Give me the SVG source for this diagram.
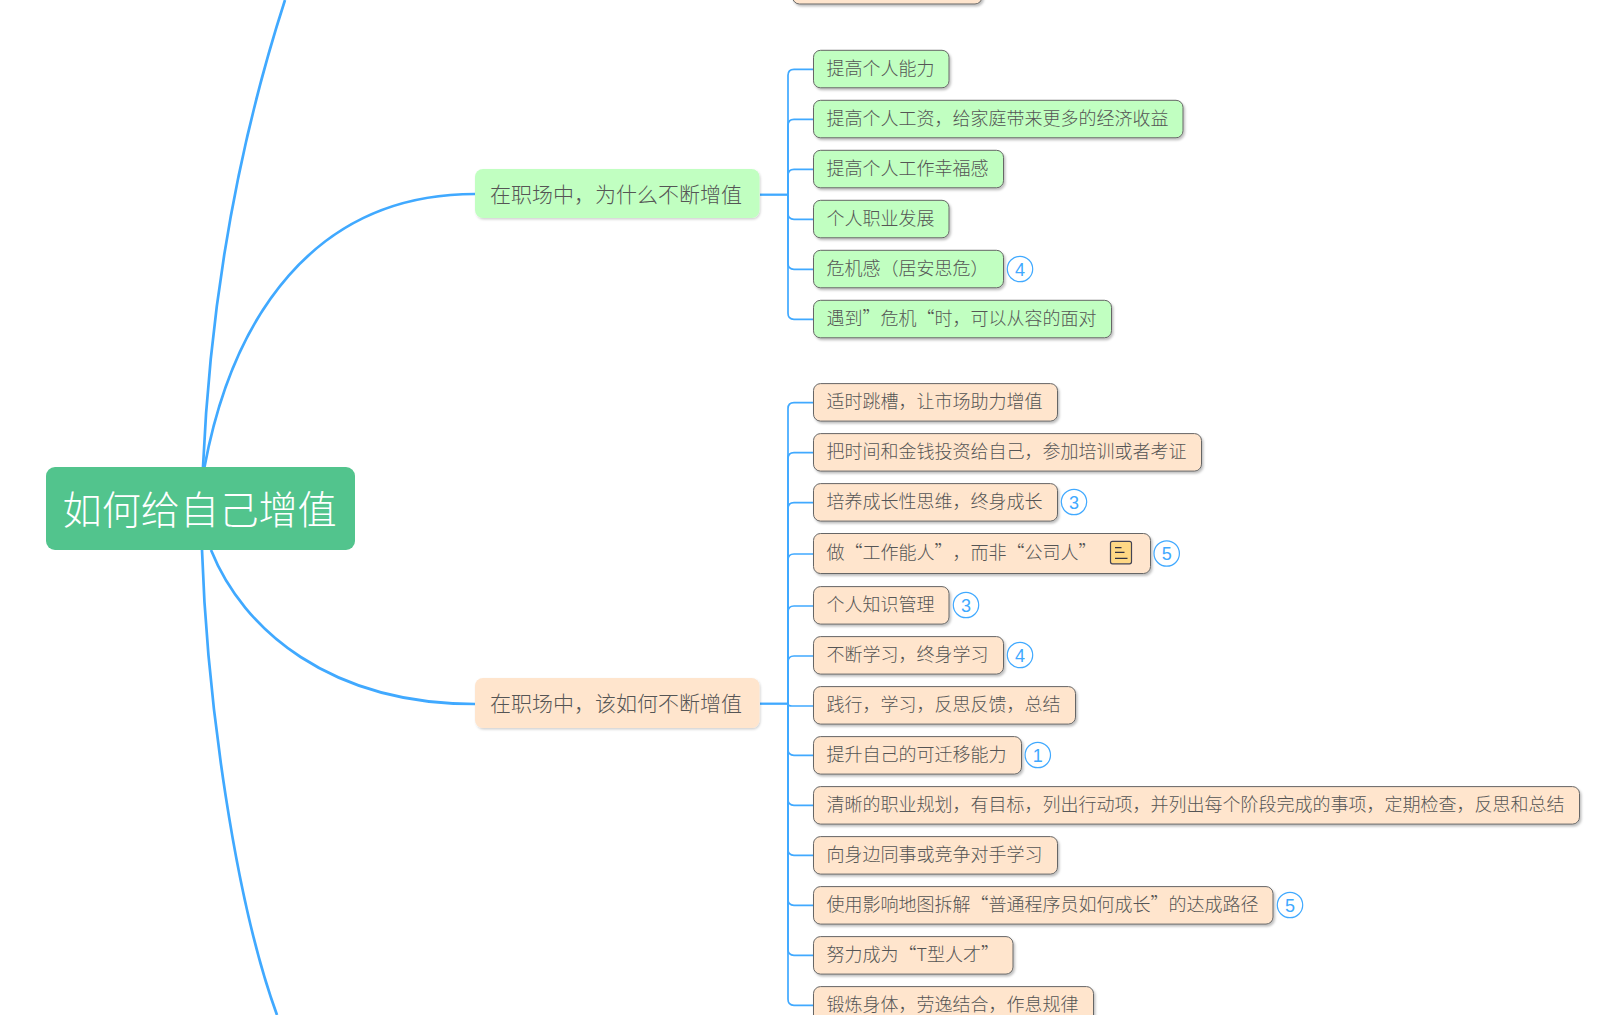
<svg xmlns="http://www.w3.org/2000/svg" width="1624" height="1015" viewBox="0 0 1624 1015">
<style>
text{font-family:"Noto Sans CJK SC","Liberation Sans",sans-serif;fill:#555;font-weight:300;text-spacing-trim:space-all}
.leaf text{font-size:18px}
.g rect.b{fill:#c1ffc1}
.o rect.b{fill:#ffe5cd}
.leaf rect.b{stroke:#666;stroke-width:1;filter:url(#ls)}
.br rect{filter:url(#bs)}
.br text{font-size:21px}
.con path{fill:none;stroke:#40a9ff;stroke-width:1.7}
.con path.main{stroke-width:2.7}
.badge circle{fill:#fff;stroke:#40a9ff;stroke-width:1.2}
.badge text{font-family:"Liberation Sans",sans-serif;font-size:18px;font-weight:400;fill:#40a9ff;text-anchor:middle}
</style>
<defs>
<filter id="ls" x="-10%" y="-20%" width="120%" height="150%"><feDropShadow dx="1.5" dy="2" stdDeviation="1.2" flood-color="#000" flood-opacity="0.25"/></filter>
<filter id="bs" x="-10%" y="-20%" width="120%" height="150%"><feDropShadow dx="1" dy="1.5" stdDeviation="1" flood-color="#000" flood-opacity="0.18"/></filter>
</defs>
<g id="connectors" class="con">
<path class="main" d="M203,467C209,330 230,170 285,0"/>
<path class="main" d="M204.500,467C232,320 312,194 475,194"/>
<path class="main" d="M211,550C243,630 330,704 475,704"/>
<path class="main" d="M202,550C207,700 235,900 277,1015"/>
<path class="main" style="stroke-width:2.3" d="M760,194.700H788"/>
<path d="M788,194.700V75.300Q788,69.300 794,69.300H813.500"/>
<path d="M788,194.700V125.300Q788,119.300 794,119.300H813.500"/>
<path d="M788,194.700V175.300Q788,169.300 794,169.300H813.500"/>
<path d="M788,194.700V213.300Q788,219.300 794,219.300H813.500"/>
<path d="M788,194.700V263.300Q788,269.300 794,269.300H813.500"/>
<path d="M788,194.700V313.300Q788,319.300 794,319.300H813.500"/>
<path class="main" style="stroke-width:2.3" d="M760,703.700H788"/>
<path d="M788,703.700V408.700Q788,402.700 794,402.700H813.500"/>
<path d="M788,703.700V458.700Q788,452.700 794,452.700H813.500"/>
<path d="M788,703.700V508.700Q788,502.700 794,502.700H813.500"/>
<path d="M788,703.700V560Q788,554 794,554H813.500"/>
<path d="M788,703.700V612Q788,606 794,606H813.500"/>
<path d="M788,703.700V662Q788,656 794,656H813.500"/>
<path d="M788,703.700Q788,706 792,706H813.500"/>
<path d="M788,703.700V749.300Q788,755.300 794,755.300H813.500"/>
<path d="M788,703.700V799.300Q788,805.300 794,805.300H813.500"/>
<path d="M788,703.700V849.300Q788,855.300 794,855.300H813.500"/>
<path d="M788,703.700V899.300Q788,905.300 794,905.300H813.500"/>
<path d="M788,703.700V949.300Q788,955.300 794,955.300H813.500"/>
<path d="M788,703.700V999.300Q788,1005.300 794,1005.300H813.500"/>
</g>
<g id="root"><rect x="46" y="467" width="309" height="83" rx="9" fill="#52c48d"/><text x="62.500" y="523.500" style="font-size:39.200px;fill:#fff">如何给自己增值</text></g>
<g id="branch1" class="br g"><rect class="b" x="475" y="169" width="284.500" height="49" rx="8"/><text x="490" y="202">在职场中，为什么不断增值</text></g>
<g id="branch2" class="br o"><rect class="b" x="475" y="678" width="284.500" height="50" rx="8"/><text x="490" y="711">在职场中，该如何不断增值</text></g>
<g id="leaf-top" class="leaf o"><rect class="b" x="792.500" y="-34" width="189.500" height="38" rx="7"/></g>
<g id="g1" class="leaf g"><rect class="b" x="813.500" y="50.300" width="135.500" height="37.500" rx="7"/><text x="826.500" y="74.900">提高个人能力</text></g>
<g id="g2" class="leaf g"><rect class="b" x="813.500" y="100.300" width="369.500" height="37.500" rx="7"/><text x="826.500" y="124.900">提高个人工资，给家庭带来更多的经济收益</text></g>
<g id="g3" class="leaf g"><rect class="b" x="813.500" y="150.300" width="190" height="37.500" rx="7"/><text x="826.500" y="174.900">提高个人工作幸福感</text></g>
<g id="g4" class="leaf g"><rect class="b" x="813.500" y="200.300" width="135.500" height="37.500" rx="7"/><text x="826.500" y="224.900">个人职业发展</text></g>
<g id="g5" class="leaf g"><rect class="b" x="813.500" y="250.300" width="190" height="37.500" rx="7"/><text x="826.500" y="274.900">危机感（居安思危）</text></g>
<g id="g6" class="leaf g"><rect class="b" x="813.500" y="300.300" width="298" height="37.500" rx="7"/><text x="826.500" y="324.900">遇到”危机“时，可以从容的面对</text></g>
<g id="o1" class="leaf o"><rect class="b" x="813.500" y="383.600" width="244" height="37.500" rx="7"/><text x="826.500" y="407.700">适时跳槽，让市场助力增值</text></g>
<g id="o2" class="leaf o"><rect class="b" x="813.500" y="433.600" width="388" height="37.500" rx="7"/><text x="826.500" y="457.700">把时间和金钱投资给自己，参加培训或者考证</text></g>
<g id="o3" class="leaf o"><rect class="b" x="813.500" y="483.600" width="244" height="37.500" rx="7"/><text x="826.500" y="507.700">培养成长性思维，终身成长</text></g>
<g id="o4" class="leaf o"><rect class="b" x="813.500" y="533.500" width="337" height="40" rx="7"/><text x="826.500" y="559">做“工作能人”，而非“公司人”</text>
<g id="note"><rect x="1110.500" y="541.300" width="21" height="22.500" rx="2" fill="#ffd885" stroke="#445" stroke-width="1.200"/><path d="M1115,547.700H1121.500M1115,552.300H1124.500M1115,558.300H1127.500" stroke="#334" stroke-width="1.200" fill="none"/></g></g>
<g id="o5" class="leaf o"><rect class="b" x="813.500" y="586.600" width="135.500" height="37.500" rx="7"/><text x="826.500" y="610.700">个人知识管理</text></g>
<g id="o6" class="leaf o"><rect class="b" x="813.500" y="636.600" width="190" height="37.500" rx="7"/><text x="826.500" y="660.700">不断学习，终身学习</text></g>
<g id="o7" class="leaf o"><rect class="b" x="813.500" y="686.600" width="262" height="37.500" rx="7"/><text x="826.500" y="710.700">践行，学习，反思反馈，总结</text></g>
<g id="o8" class="leaf o"><rect class="b" x="813.500" y="736.600" width="208" height="37.500" rx="7"/><text x="826.500" y="760.700">提升自己的可迁移能力</text></g>
<g id="o9" class="leaf o"><rect class="b" x="813.500" y="786.600" width="766" height="37.500" rx="7"/><text x="826.500" y="810.700">清晰的职业规划，有目标，列出行动项，并列出每个阶段完成的事项，定期检查，反思和总结</text></g>
<g id="o10" class="leaf o"><rect class="b" x="813.500" y="836.600" width="244" height="37.500" rx="7"/><text x="826.500" y="860.700">向身边同事或竞争对手学习</text></g>
<g id="o11" class="leaf o"><rect class="b" x="813.500" y="886.600" width="459.500" height="37.500" rx="7"/><text x="826.500" y="910.700">使用影响地图拆解“普通程序员如何成长”的达成路径</text></g>
<g id="o12" class="leaf o"><rect class="b" x="813.500" y="936.600" width="199.500" height="37.500" rx="7"/><text x="826.500" y="960.700">努力成为“T型人才”</text></g>
<g id="o13" class="leaf o"><rect class="b" x="813.500" y="986.600" width="280" height="37.500" rx="7"/><text x="826.500" y="1010.700">锻炼身体，劳逸结合，作息规律</text></g>
<g id="badge-g5" class="badge"><circle cx="1020" cy="269" r="12.700"/><text x="1020" y="275.500">4</text></g>
<g id="badge-o3" class="badge"><circle cx="1074" cy="502" r="12.700"/><text x="1074" y="508.500">3</text></g>
<g id="badge-o4" class="badge"><circle cx="1166.700" cy="553.500" r="12.700"/><text x="1166.700" y="560">5</text></g>
<g id="badge-o5" class="badge"><circle cx="966" cy="605" r="12.700"/><text x="966" y="611.500">3</text></g>
<g id="badge-o6" class="badge"><circle cx="1020" cy="655" r="12.700"/><text x="1020" y="661.500">4</text></g>
<g id="badge-o8" class="badge"><circle cx="1037.800" cy="755" r="12.700"/><text x="1037.800" y="761.500">1</text></g>
<g id="badge-o11" class="badge"><circle cx="1290" cy="905" r="12.700"/><text x="1290" y="911.500">5</text></g>
</svg>
